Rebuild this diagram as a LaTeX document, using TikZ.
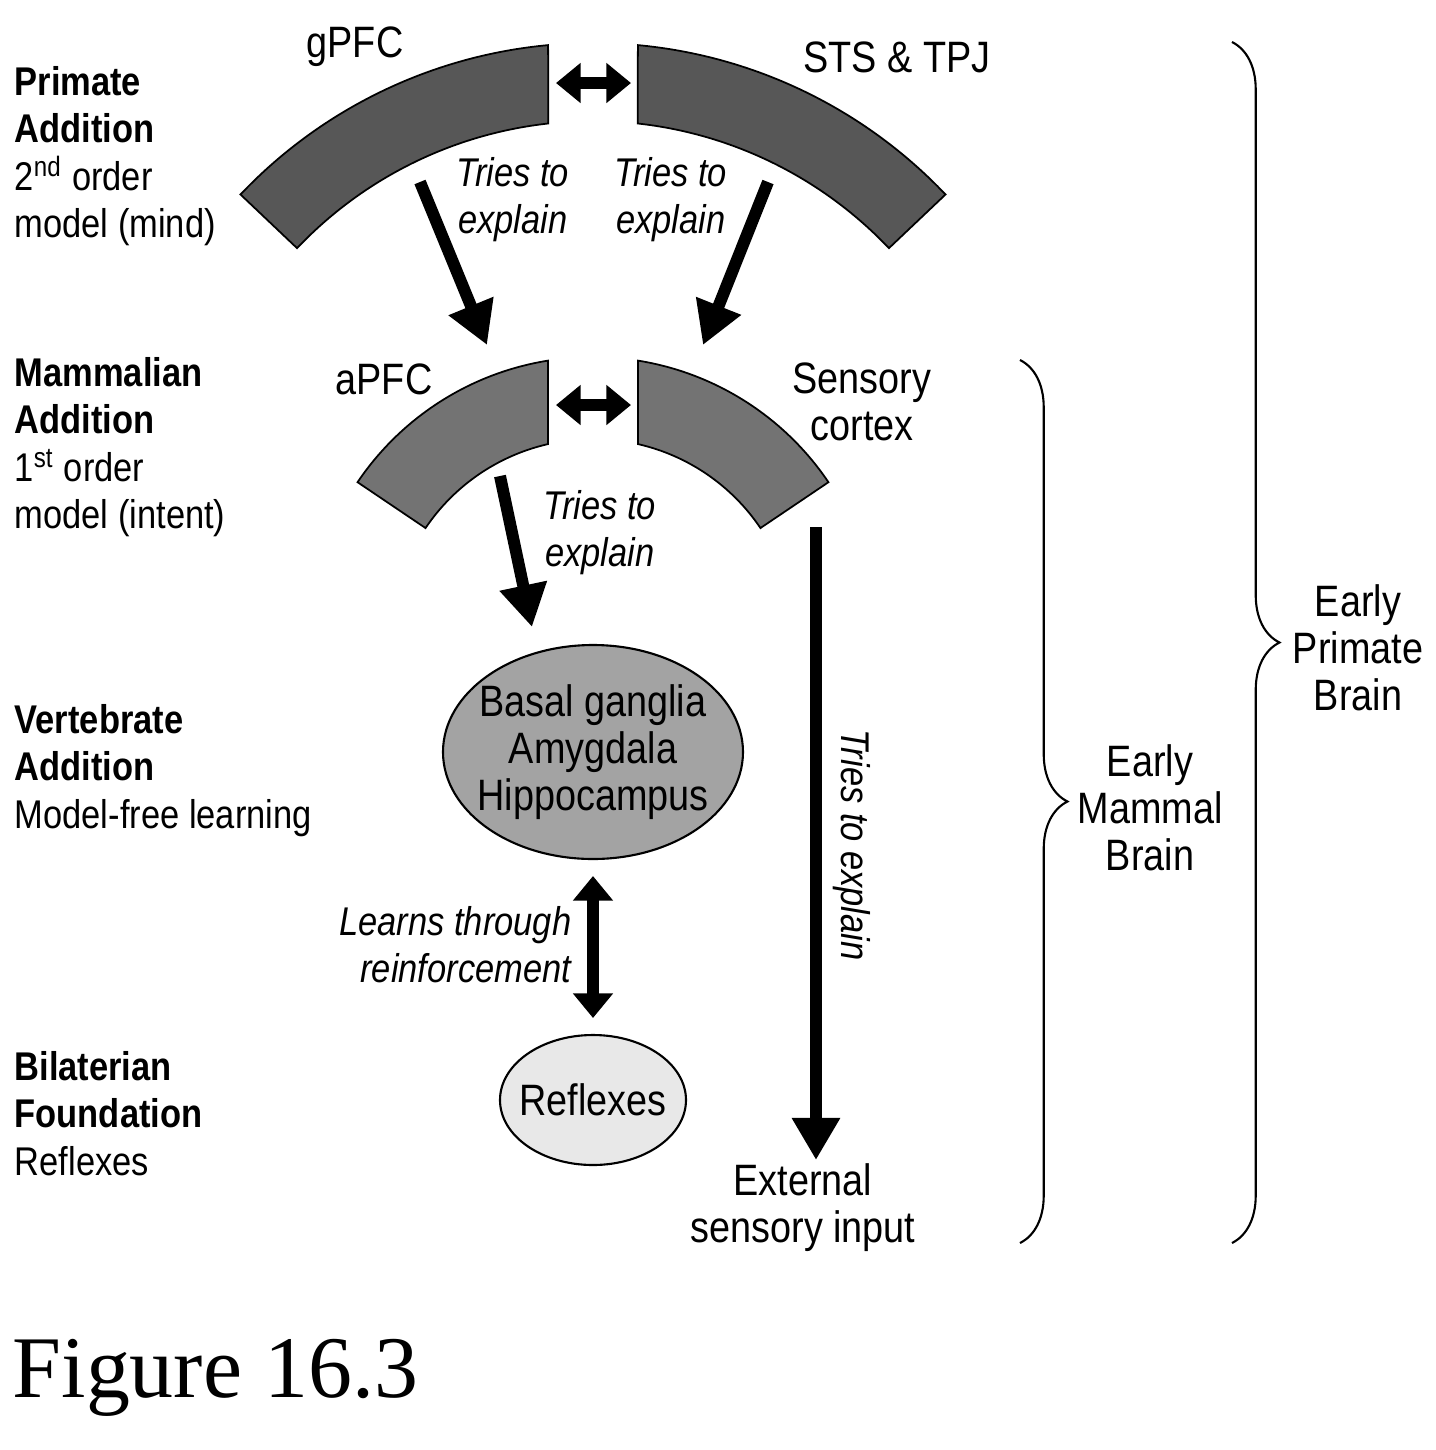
\documentclass[tikz,border=0pt]{standalone}
\usepackage{fontspec}
\setmainfont{Liberation Sans}[FakeStretch=0.86]
\newfontfamily\figfont{Liberation Serif}
\usetikzlibrary{arrows.meta,decorations.pathreplacing,shapes.geometric}
\newcommand\mysector[7]{%
  \path[#7] ([shift={(#1)}]#2:#4) arc[start angle=#2,end angle=#3,radius=#4]
   -- ([shift={(#1)}]#3:#5) arc[start angle=#3,end angle=#6,radius=#5] -- cycle;}
\begin{document}
\begin{tikzpicture}[x=0.01cm,y=-0.01cm,
  txt/.style={inner sep=0pt,font=\fontsize{11.4}{13.4}\selectfont,align=center},
  lbl/.style={txt,font=\fontsize{12.5}{13.4}\selectfont},
  lt/.style={txt,anchor=north west,align=left},
  it/.style={txt,font=\fontsize{11.4}{13.4}\selectfont\itshape},
  big/.style={line width=3.4pt,-{Triangle[length=12pt,width=13pt]}},
  dbl/.style={line width=3.4pt,{Triangle[length=7pt,width=11pt]}-{Triangle[length=7pt,width=11pt]}},
  brace/.style={decorate,decoration={brace,amplitude=13.5pt},line width=0.6pt},
  g1/.style={fill=black!66,draw=black,line width=0.5pt},
  g2/.style={fill=black!55,draw=black,line width=0.5pt}]
\useasboundingbox (0,0) rectangle (1436,1450);
% top arcs
\mysector{593,529}{-95.3}{-136.5}{486}{408}{-96.3}{g1}
\mysector{593,529}{-84.7}{-43.5}{486}{408}{-83.7}{g1}
% middle arcs
\mysector{593,641}{-99.1}{-146}{284}{202}{-102.9}{g2}
\mysector{593,641}{-80.9}{-34}{284}{202}{-77.1}{g2}
% ellipses
\path[draw=black,line width=0.6pt,fill=black!36] (593,752) ellipse[x radius=150,y radius=107];
\node[lbl] (bg) at (593,752) {Basal ganglia\\Amygdala\\Hippocampus};
\path[draw=black,line width=0.6pt,fill=black!9] (593,1100) ellipse[x radius=93,y radius=65];
\node[lbl] (rf) at (593,1100) {Reflexes};
% region labels
\node[lbl] (gpfc) at (355,47) {gPFC};
\node[lbl] (sts) at (897,57) {STS \& TPJ};
\node[lbl] (apfc) at (384,379) {aPFC};
\node[lbl] (sc) at (862,402) {Sensory\\cortex};
\node[lbl] (ext) at (803,1208) {External\\sensory input};
% left labels
\node[lt] (l1) at (14,66) {\textbf{Primate}\\\textbf{Addition}\\2\textsuperscript{nd} order\\model (mind)};
\node[lt] (l2) at (14,357) {\textbf{Mammalian}\\\textbf{Addition}\\1\textsuperscript{st} order\\model (intent)};
\node[lt] (l3) at (14,704) {\textbf{Vertebrate}\\\textbf{Addition}\\Model-free learning};
\node[lt] (l4) at (14,1051) {\textbf{Bilaterian}\\\textbf{Foundation}\\Reflexes};
% arrows
\coordinate (a1s) at (420,182); \coordinate (a1e) at (487,345);
\coordinate (a2s) at (768,182); \coordinate (a2e) at (703,345);
\coordinate (a3s) at (500,476); \coordinate (a3e) at (532,627);
\coordinate (a4s) at (816,527); \coordinate (a4e) at (816,1160);
\draw[big] (a1s) -- (a1e);
\draw[big] (a2s) -- (a2e);
\draw[big] (a3s) -- (a3e);
\draw[big] (a4s) -- (a4e);
\coordinate (d1a) at (556,83); \coordinate (d1b) at (631,83);
\coordinate (d2a) at (556,405); \coordinate (d2b) at (631,405);
\coordinate (d3a) at (593,876); \coordinate (d3b) at (593,1018);
\draw[dbl] (d1a) -- (d1b);
\draw[dbl] (d2a) -- (d2b);
\draw[dbl] (d3a) -- (d3b);
% arrow labels
\node[it] (t1) at (513,200) {Tries to\\explain};
\node[it] (t2) at (671,200) {Tries to\\explain};
\node[it] (t3) at (600,533) {Tries to\\explain};
\node[it,rotate=-90] (t4) at (852,845) {Tries to explain};
\node[it,anchor=east,align=right] (t5) at (572,945) {Learns through\\reinforcement};
% braces
\coordinate (b1t) at (1232,42); \coordinate (b1b) at (1232,1243);
\coordinate (b2t) at (1020,360); \coordinate (b2b) at (1020,1243);
\draw[brace] (b1t) -- (b1b);
\draw[brace] (b2t) -- (b2b);
\node[lbl] (epb) at (1358,648) {Early\\Primate\\Brain};
\node[lbl] (emb) at (1150,808) {Early\\Mammal\\Brain};
% caption
\node[anchor=west,inner sep=0pt,font=\figfont\fontsize{25}{28}\selectfont] (cap) at (12,1378) {Figure 16.3};
\end{tikzpicture}
\end{document}
